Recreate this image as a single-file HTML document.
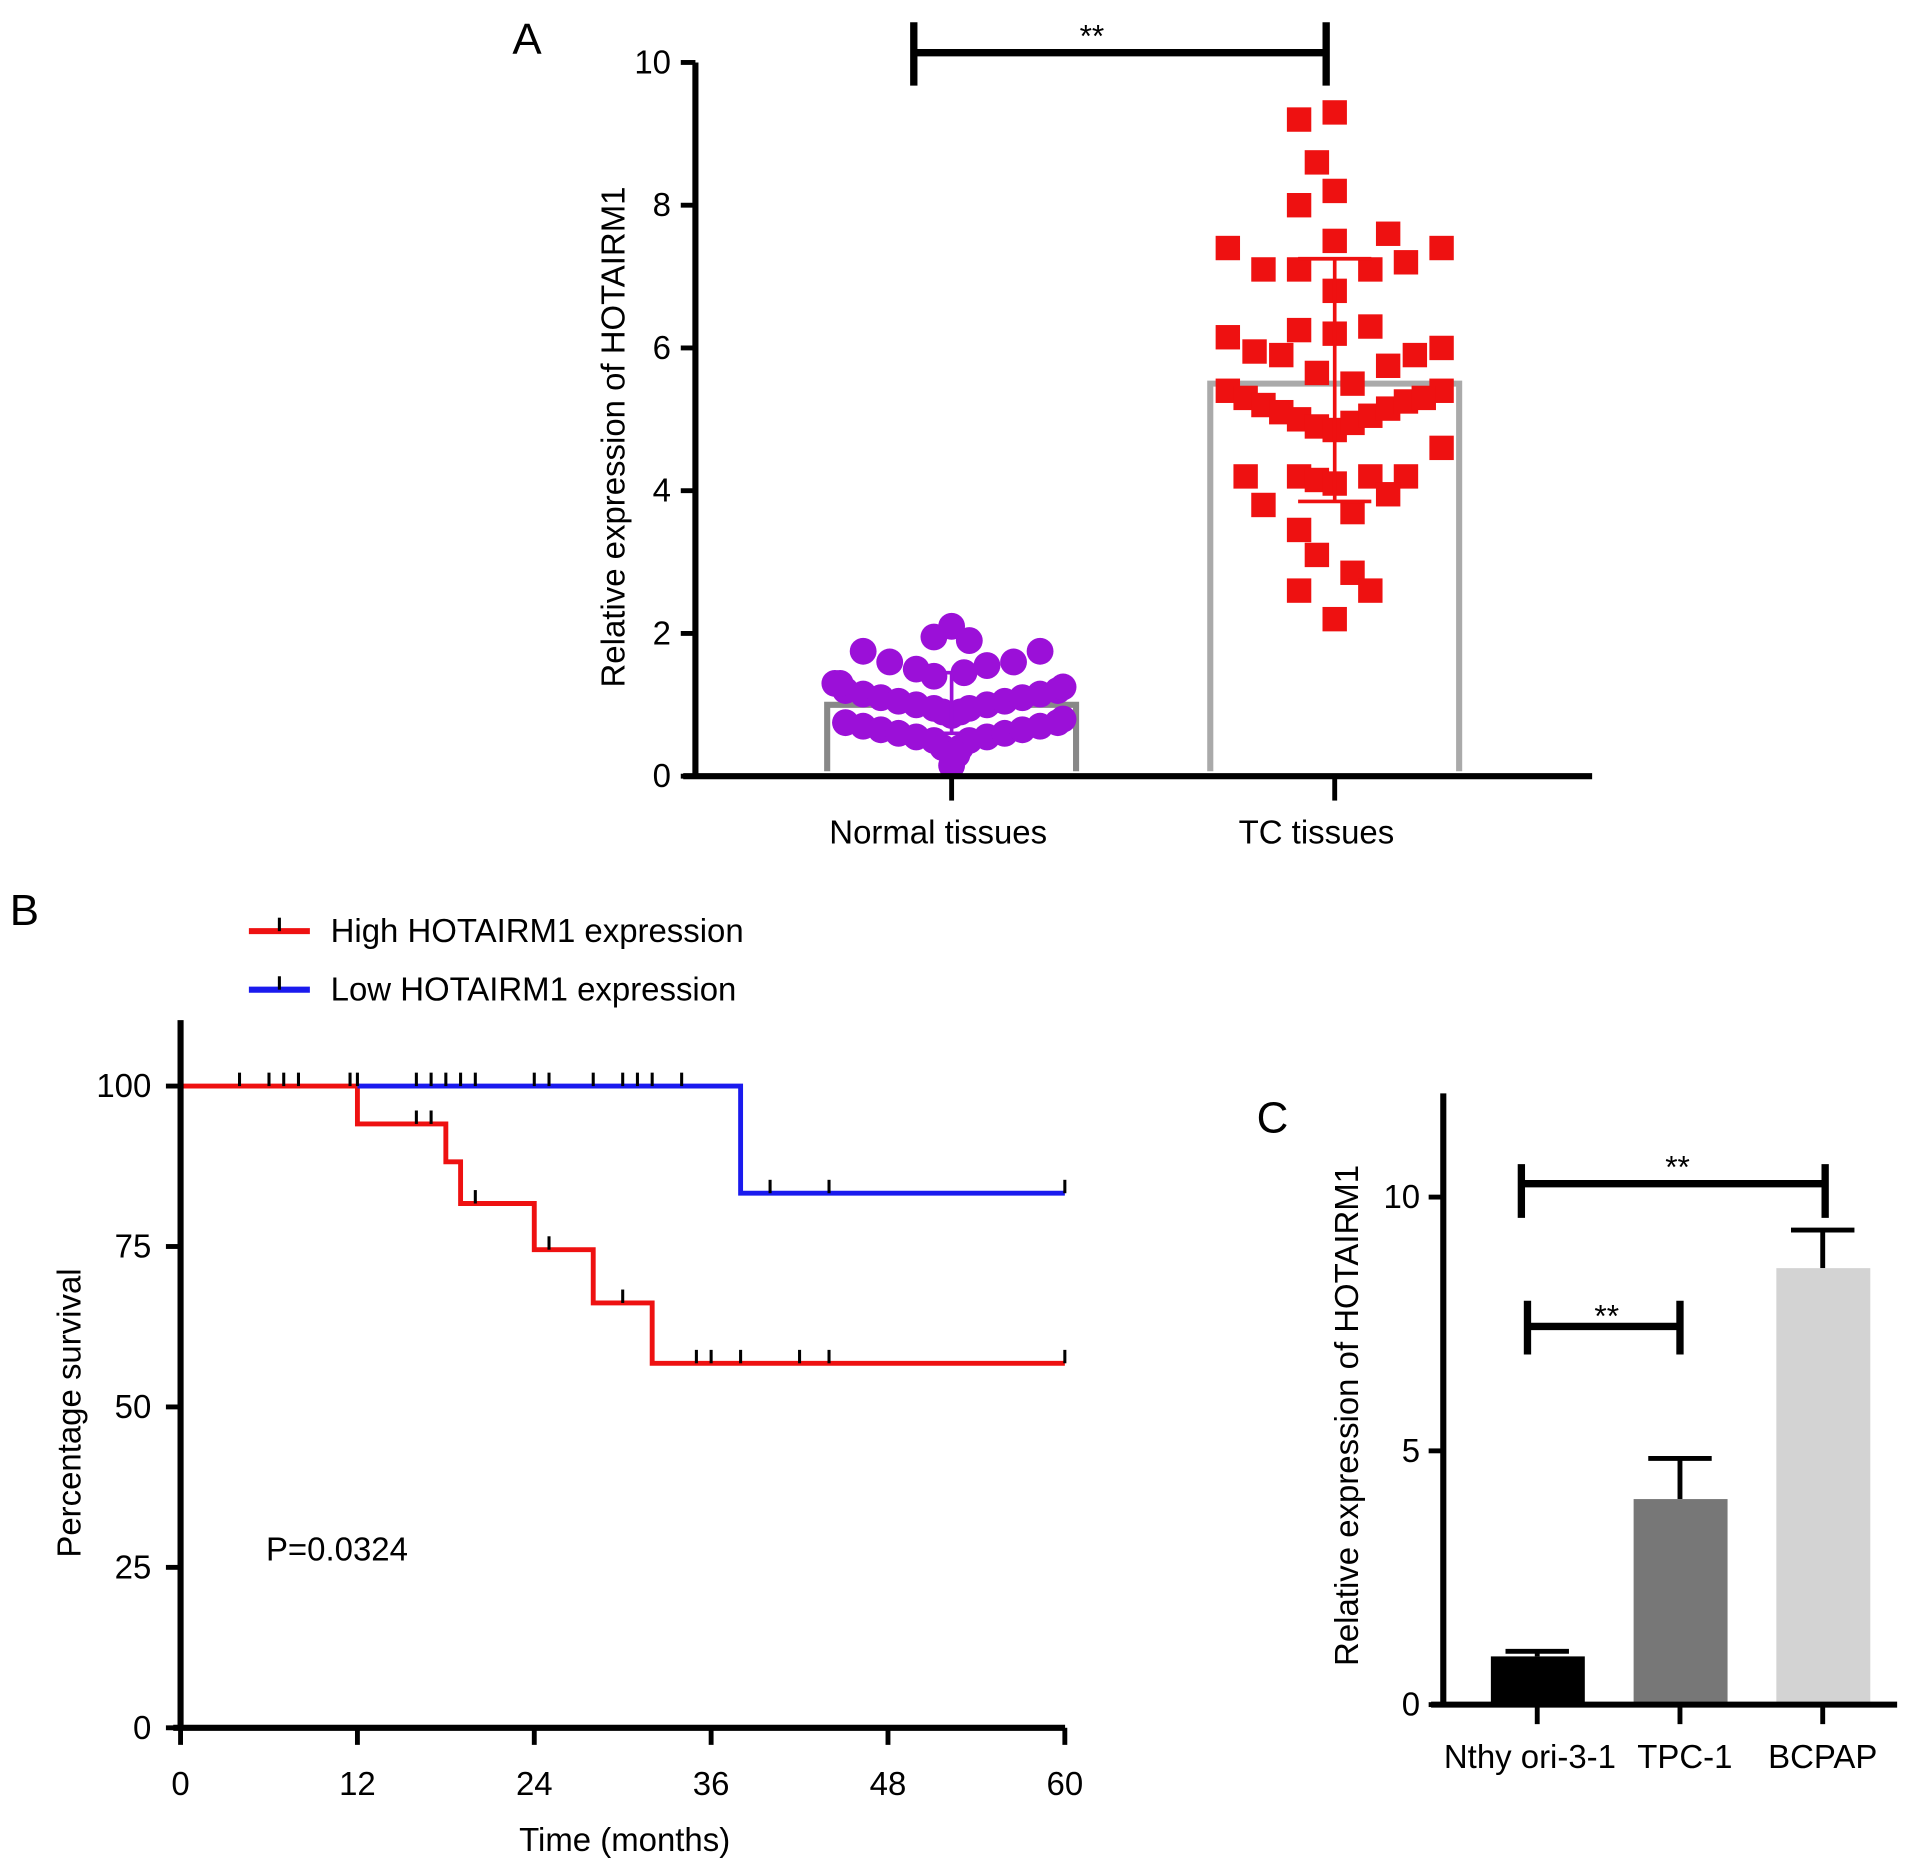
<!DOCTYPE html>
<html><head><meta charset="utf-8"><style>
html,body{margin:0;padding:0;background:#fff;}
svg{display:block;font-family:"Liberation Sans",sans-serif;}
</style></head><body>
<svg id="fig" width="1913" height="1872" viewBox="0 0 1568 1534" xmlns="http://www.w3.org/2000/svg">
<g id="pa"></g>
<g id="pb"></g>
<g id="pc"></g>
</svg>
<script>
// ---------- Panel A data ----------
const aCategories = ["Normal tissues", "TC tissues"];
const aBarMeans = [1.0, 5.5];
const aErrLow = [0.6, 3.85];
const aErrHigh = [1.45, 7.25];
const aTicks = [0, 2, 4, 6, 8, 10];
const tcValues = [9.2,9.3,8.6,8.0,8.2,7.4,7.5,7.6,7.4,7.1,7.1,7.1,7.2,6.8,6.15,6.25,6.2,6.3,6.0,5.95,5.9,5.9,5.75,5.65,5.5,5.4,5.4,5.3,5.2,5.1,5.0,4.9,4.85,4.95,5.05,5.15,5.25,5.3,4.6,4.2,4.2,4.15,4.1,4.2,4.2,3.8,3.95,3.7,3.45,3.1,2.85,2.6,2.6,2.2];
const tcJitter = [-2,0,-1,-2,0,-6,0,3,6,-4,-2,2,4,0,-6,-2,0,2,6,-4.5,-3,4.5,3,-1,1,-6,6,-5,-4,-3,-2,-1,0,1,2,3,4,5,6,-5,-2,-1,0,2,4,-4,3,1,-2,-1,1,-2,2,0];
const nValues = [2.1,1.95,1.9,1.75,1.75,1.6,1.6,1.55,1.5,1.45,1.4,
 1.2,1.15,1.1,1.05,1.0,0.95,0.9,0.85,0.9,0.95,1.0,1.05,1.1,1.15,1.2,1.25,
 0.75,0.7,0.65,0.6,0.55,0.5,0.4,0.3,0.4,0.5,0.55,0.6,0.65,0.7,0.75,0.8,
 0.15,0.3,1.3,1.3];
const nJitter = [0,-1,1,-5,5,-3.5,3.5,2,-2,0.7,-1,
 -6,-5,-4,-3,-2,-1,-0.5,0,0.5,1,2,3,4,5,6,6.3,
 -6,-5,-4,-3,-2,-1,-0.5,0,0.5,1,2,3,4,5,6,6.3,
 0,0.3,-6.3,-6.6];

// ---------- Panel B data ----------
const bXTicks = [0,12,24,36,48,60];
const bYTicks = [0,25,50,75,100];
const highTimes = [0,12,18,19,24,28,32,60];
const highSurv = [100,94.1,88.2,81.7,74.5,66.2,56.8,56.8];
const highCensorT = [4,6,7,8,11.5,16,17,20,25,30,35,36,38,42,44,60];
const lowTimes = [0,38,60];
const lowSurv = [100,83.3,83.3];
const lowCensorT = [12,16,17,18,19,20,24,25,28,30,31,32,34,40,44,60];

// ---------- Panel C data ----------
const cCategories = ["Nthy ori-3-1","TPC-1","BCPAP"];
const cValues = [0.95, 4.05, 8.6];
const cErr = [0.1, 0.8, 0.75];
const cTicks = [0,5,10];

const NS="http://www.w3.org/2000/svg";
const FS=27;
function mk(parent, tag, attrs, text){
  const e=document.createElementNS(NS,tag);
  for(const k in attrs) e.setAttribute(k,attrs[k]);
  if(text!==undefined) e.textContent=text;
  parent.appendChild(e); return e;
}
const pa=document.getElementById('pa'), pb=document.getElementById('pb'), pc=document.getElementById('pc');

// ===== Panel A =====
(function(){
  const y=v=>636-v*58.5;
  const cx=[780,1094];
  const bw=102;
  let t=mk(pa,'text',{x:432,y:44,'font-size':36,'text-anchor':'middle'},'A');
  
  
  const colsBar=['#888','#aaa'];
  for(let i=0;i<2;i++){
    const p=mk(pa,'path',{d:`M${cx[i]-bw} ${y(0)-4} V${y(aBarMeans[i])} H${cx[i]+bw} V${y(0)-4}`,fill:'none',stroke:colsBar[i],'stroke-width':5});
    
    
  }
  nValues.forEach((v,i)=>{
    const c=mk(pa,'circle',{cx:cx[0]+nJitter[i]*14.5,cy:y(v),r:11,fill:'#9b10d8'});
    
    
  });
  tcValues.forEach((v,i)=>{
    const r=mk(pa,'rect',{x:cx[1]+tcJitter[i]*14.6-10,y:y(v)-10,width:20,height:20,fill:'#ee1111'});
    
    
  });
  const ecol=['#9b10d8','#ee1111'];
  for(let i=0;i<2;i++){
    const g=mk(pa,'path',{d:`M${cx[i]} ${y(aErrLow[i])} V${y(aErrHigh[i])} M${cx[i]-30} ${y(aErrLow[i])} H${cx[i]+30} M${cx[i]-30} ${y(aErrHigh[i])} H${cx[i]+30}`,stroke:ecol[i],'stroke-width':3,fill:'none'});
    
    
  }
  let ax=mk(pa,'path',{d:`M570 ${y(10)} V${y(0)} M560 ${y(0)} H1305`,stroke:'#000','stroke-width':5,fill:'none'});
  
  
  aTicks.forEach(v=>{
    const l=mk(pa,'line',{x1:558,x2:570,y1:y(v),y2:y(v),stroke:'#000','stroke-width':4});
    
    
    const tx=mk(pa,'text',{x:550,y:y(v)+9,'font-size':FS,'text-anchor':'end'},String(v));
    
    
  });
  const lx=[769,1079];
  aCategories.forEach((c,i)=>{
    const l=mk(pa,'line',{x1:cx[i],x2:cx[i],y1:y(0),y2:y(0)+20,stroke:'#000','stroke-width':4});
    
    
    const tx=mk(pa,'text',{x:lx[i],y:691,'font-size':FS,'text-anchor':'middle'},c);
    
    
  });
  const yt=mk(pa,'text',{x:0,y:0,'font-size':FS,'text-anchor':'middle',transform:'translate(512,358) rotate(-90)'},'Relative expression of HOTAIRM1');
  
  
  const sb=mk(pa,'path',{d:'M749 18 V70 M1087 18 V70 M749 43 H1087',stroke:'#000','stroke-width':6,fill:'none'});
  
  
  const st=mk(pa,'text',{x:895,y:38,'font-size':26,'text-anchor':'middle'},'**');
  
  
})();

// ===== Panel B =====
(function(){
  const x=t=>148+t*12.08;
  const y=v=>1416-v*5.26;
  let t=mk(pb,'text',{x:20,y:758,'font-size':36,'text-anchor':'middle'},'B');
  
  
  function stepPath(ts,ss){
    let d=`M${x(ts[0])} ${y(ss[0])}`;
    for(let i=1;i<ts.length;i++){ d+=` H${x(ts[i])} V${y(ss[i])}`; }
    return d;
  }
  function survAt(ts,ss,tt){ let s=ss[0]; for(let i=0;i<ts.length;i++){ if(tt>=ts[i]) s=ss[i]; } return s; }
  const hl=mk(pb,'path',{d:stepPath(highTimes,highSurv),stroke:'#ee1111','stroke-width':4,fill:'none'});
  
  
  const ll=mk(pb,'path',{d:stepPath(lowTimes,lowSurv).replace(/^M[^H]+/,`M${x(12)} ${y(100)} `),stroke:'#1a1aee','stroke-width':4,fill:'none'});
  
  
  highCensorT.forEach(tt=>{
    const s=survAt(highTimes,highSurv,tt);
    const c=mk(pb,'line',{x1:x(tt),x2:x(tt),y1:y(s),y2:y(s)-11,stroke:'#000','stroke-width':2.5});
    
    
  });
  lowCensorT.forEach(tt=>{
    const s=survAt(lowTimes,lowSurv,tt);
    const c=mk(pb,'line',{x1:x(tt),x2:x(tt),y1:y(s),y2:y(s)-11,stroke:'#000','stroke-width':2.5});
    
    
  });
  const ax=mk(pb,'path',{d:`M148 836 V1416 M142 1416 H873`,stroke:'#000','stroke-width':5,fill:'none'});
  
  
  bYTicks.forEach(v=>{
    const l=mk(pb,'line',{x1:136,x2:148,y1:y(v),y2:y(v),stroke:'#000','stroke-width':4});
    
    
    const tx=mk(pb,'text',{x:124,y:y(v)+9,'font-size':FS,'text-anchor':'end'},String(v));
    
    
  });
  bXTicks.forEach(v=>{
    const l=mk(pb,'line',{x1:x(v),x2:x(v),y1:1416,y2:1430,stroke:'#000','stroke-width':4});
    
    
    const tx=mk(pb,'text',{x:x(v),y:1471,'font-size':FS,'text-anchor':'middle'},String(v));
    
    
  });
  const xt=mk(pb,'text',{x:512,y:1517,'font-size':FS,'text-anchor':'middle'},'Time (months)');
  
  
  const yt=mk(pb,'text',{x:0,y:0,'font-size':FS,'text-anchor':'middle',transform:'translate(66,1158) rotate(-90)'},'Percentage survival');
  
  
  const pv=mk(pb,'text',{x:218,y:1279,'font-size':FS},'P=0.0324');
  
  
  const leg=[['#ee1111','High HOTAIRM1 expression',763,'legend-entry-high'],['#1a1aee','Low HOTAIRM1 expression',811,'legend-entry-low']];
  leg.forEach(L=>{
    const g=mk(pb,'g',{});
    
    
    mk(g,'line',{x1:204,x2:254,y1:L[2],y2:L[2],stroke:L[0],'stroke-width':5});
    mk(g,'line',{x1:229,x2:229,y1:L[2],y2:L[2]-11,stroke:'#000','stroke-width':2.5});
    mk(g,'text',{x:271,y:L[2]+9,'font-size':FS},L[1]);
  });
})();

// ===== Panel C =====
(function(){
  const y=v=>1397-v*41.6;
  const cx=[1260,1377,1494];
  const cols=['#000','#777','#d3d3d3'];
  let t=mk(pc,'text',{x:1043,y:928,'font-size':36,'text-anchor':'middle'},'C');
  
  
  cValues.forEach((v,i)=>{
    const e=mk(pc,'path',{d:`M${cx[i]} ${y(v)} V${y(v+cErr[i])} M${cx[i]-26} ${y(v+cErr[i])} H${cx[i]+26}`,stroke:'#000','stroke-width':4,fill:'none'});
    
    
    const r=mk(pc,'rect',{x:cx[i]-38,y:y(v),width:77,height:y(0)-y(v),fill:cols[i]});
    
    
    const l=mk(pc,'line',{x1:cx[i],x2:cx[i],y1:y(0),y2:y(0)+16,stroke:'#000','stroke-width':4});
    
    
  });
  const lx=[1254,1381,1494];
  cCategories.forEach((c,i)=>{
    const tx=mk(pc,'text',{x:lx[i],y:1449,'font-size':FS,'text-anchor':'middle'},c);
    
    
  });
  const ax=mk(pc,'path',{d:`M1183 896 V1397 M1173 1397 H1555`,stroke:'#000','stroke-width':5,fill:'none'});
  
  
  cTicks.forEach(v=>{
    const l=mk(pc,'line',{x1:1171,x2:1183,y1:y(v),y2:y(v),stroke:'#000','stroke-width':4});
    
    
    const tx=mk(pc,'text',{x:1164,y:y(v)+9,'font-size':FS,'text-anchor':'end'},String(v));
    
    
  });
  const yt=mk(pc,'text',{x:0,y:0,'font-size':FS,'text-anchor':'middle',transform:'translate(1113,1160) rotate(-90)'},'Relative expression of HOTAIRM1');
  
  
  const s1=mk(pc,'path',{d:'M1247 954 V998 M1496 954 V998 M1247 970 H1496',stroke:'#000','stroke-width':6,fill:'none'});
  
  
  const t1=mk(pc,'text',{x:1375,y:965,'font-size':26,'text-anchor':'middle'},'**');
  
  
  const s2=mk(pc,'path',{d:'M1252 1066 V1110 M1377 1066 V1110 M1252 1087 H1377',stroke:'#000','stroke-width':6,fill:'none'});
  
  
  const t2=mk(pc,'text',{x:1317,y:1087,'font-size':26,'text-anchor':'middle'},'**');
  
  
})();
</script>
</body></html>
